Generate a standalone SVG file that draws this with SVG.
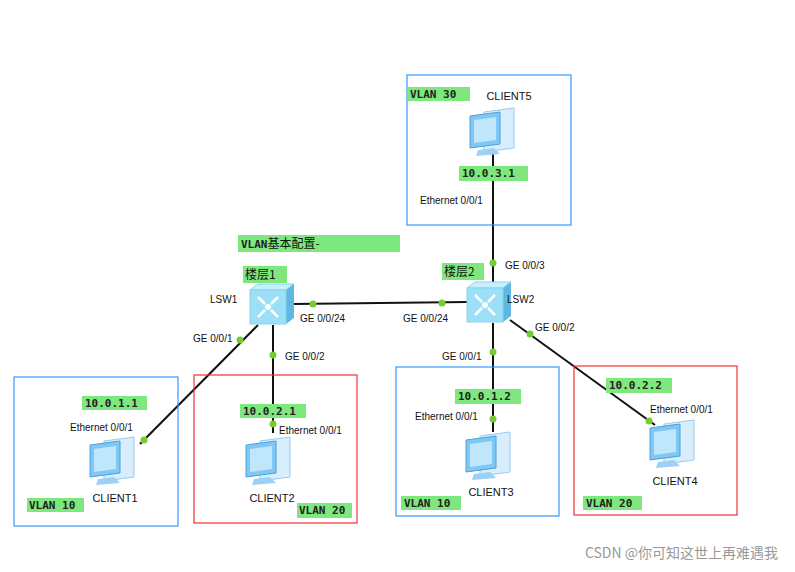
<svg xmlns="http://www.w3.org/2000/svg" width="795" height="572" viewBox="0 0 795 572">
<style>
.lb{fill:#7ee87e}
.m{font-family:"DejaVu Sans Mono","Liberation Mono",monospace;font-size:11px;font-weight:bold;fill:#222}
.t{font-family:"Liberation Sans",Arial,sans-serif;font-size:10px;fill:#111}
.c{font-family:"Liberation Sans",Arial,sans-serif;font-size:11px;fill:#111;text-anchor:middle}
.cn{font-family:"Noto Sans CJK SC",sans-serif;font-size:12px;fill:#111}
.bb{fill:none;stroke:#3399ff;stroke-width:1.2}
.rb{fill:none;stroke:#ee3333;stroke-width:1.2}
.ln{stroke:#111;stroke-width:2;fill:none}
.d{fill:#77cc33}
</style>
<defs>
<g id="pc">
<path d="M14 4 L44 0 L44 40 L14 44 Z" fill="#d8eefc" stroke="#9cc8ee"/>
<path d="M0 8 L30 4 L30 36 L0 40 Z" fill="#7fc8f5" stroke="#4aa0dd"/>
<path d="M4 12 L26 9 L26 32 L4 35 Z" fill="#bfe6fb"/>
<path d="M8 42 L24 40 L30 46 L6 48 Z" fill="#9cd0f5"/>
</g>
<g id="sw">
<path d="M0 6 L8 0 L44 0 L36 6 Z" fill="#c6f0fb" stroke="#8cd2ee"/>
<path d="M36 6 L44 0 L44 34 L36 40 Z" fill="#5fb8e0"/>
<rect x="0" y="6" width="36" height="34" fill="#9be0f6" stroke="#8cd2ee"/>
<g stroke="#fff" stroke-width="2.5" fill="none"><path d="M8 13 L15 20 M28 13 L21 20 M8 33 L15 26 M28 33 L21 26"/></g>
<circle cx="18" cy="23" r="3" fill="#fff"/>
</g>
</defs>
<rect width="795" height="572" fill="#fff"/>
<g id="connectors">
<path class="ln" d="M293 304 L467 302"/>
<path class="ln" d="M493 153 L493 283"/>
<path class="ln" d="M258 325 L140 444"/>
<path class="ln" d="M273 325 L273 433"/>
<path class="ln" d="M493 323 L493 432"/>
<path class="ln" d="M510 320 L655 425"/>
<circle class="d" cx="313" cy="304" r="3.5"/><circle class="d" cx="442" cy="303" r="3.5"/>
<circle class="d" cx="493" cy="263" r="3.5"/><circle class="d" cx="493" cy="174" r="3.5"/>
<circle class="d" cx="240" cy="340" r="3.5"/><circle class="d" cx="144" cy="440" r="3.5"/>
<circle class="d" cx="273" cy="355" r="3.5"/><circle class="d" cx="273" cy="424" r="3.5"/>
<circle class="d" cx="493" cy="352" r="3.5"/><circle class="d" cx="493" cy="419" r="3.5"/>
<circle class="d" cx="530" cy="334" r="3.5"/><circle class="d" cx="649" cy="421" r="3.5"/>
<text class="t" x="300" y="322">GE 0/0/24</text><text class="t" x="403" y="322">GE 0/0/24</text>
<text class="t" x="505" y="269">GE 0/0/3</text>
<text class="t" x="193" y="342">GE 0/0/1</text>
<text class="t" x="285" y="360">GE 0/0/2</text>
<text class="t" x="442" y="360">GE 0/0/1</text>
<text class="t" x="535" y="331">GE 0/0/2</text>
</g>
<g id="title"><rect class="lb" x="238" y="235" width="162" height="17"/><text class="cn" x="241" y="248"><tspan class="m" font-size="11">VLAN</tspan>基本配置-</text></g>
<g id="LSW1"><use href="#sw" x="250" y="284"/><rect class="lb" x="243" y="266" width="44" height="17"/><text class="cn" x="245" y="279">楼层1</text><text class="t" x="210" y="303">LSW1</text></g>
<g id="LSW2"><use href="#sw" x="467" y="282"/><rect class="lb" x="442" y="263" width="42" height="17"/><text class="cn" x="444" y="276">楼层2</text><text class="t" x="507" y="303">LSW2</text></g>
<g id="CLIENT5"><rect class="bb" x="407" y="75" width="164" height="150"/><rect class="lb" x="408" y="87" width="62" height="14"/><text class="m" x="410" y="98">VLAN 30</text>
<text class="c" x="509" y="100">CLIENT5</text><use href="#pc" x="470" y="108"/><rect class="lb" x="459" y="166" width="69" height="15"/><text class="m" x="462" y="177">10.0.3.1</text><text class="t" x="420" y="204">Ethernet 0/0/1</text></g>
<g id="CLIENT1"><rect class="bb" x="14" y="377" width="164" height="149"/><rect class="lb" x="82" y="396" width="65" height="14"/><text class="m" x="85" y="407">10.0.1.1</text><text class="t" x="70" y="431">Ethernet 0/0/1</text><use href="#pc" x="90" y="437"/><text class="c" x="115" y="502">CLIENT1</text><rect class="lb" x="27" y="498" width="57" height="14"/><text class="m" x="29" y="509">VLAN 10</text></g>
<g id="CLIENT2"><rect class="rb" x="194" y="375" width="163" height="148"/><rect class="lb" x="240" y="404" width="66" height="14"/><text class="m" x="243" y="415">10.0.2.1</text><text class="t" x="279" y="434">Ethernet 0/0/1</text><use href="#pc" x="246" y="437"/><text class="c" x="272" y="502">CLIENT2</text><rect class="lb" x="297" y="503" width="55" height="15"/><text class="m" x="299" y="514">VLAN 20</text></g>
<g id="CLIENT3"><rect class="bb" x="396" y="367" width="163" height="149"/><rect class="lb" x="455" y="389" width="66" height="15"/><text class="m" x="458" y="400">10.0.1.2</text><text class="t" x="415" y="420">Ethernet 0/0/1</text><use href="#pc" x="466" y="432"/><text class="c" x="491" y="496">CLIENT3</text><rect class="lb" x="401" y="496" width="60" height="14"/><text class="m" x="404" y="507">VLAN 10</text></g>
<g id="CLIENT4"><rect class="rb" x="574" y="366" width="163" height="149"/><rect class="lb" x="606" y="378" width="66" height="15"/><text class="m" x="609" y="389">10.0.2.2</text><text class="t" x="650" y="413">Ethernet 0/0/1</text><use href="#pc" x="650" y="420"/><text class="c" x="675" y="485">CLIENT4</text><rect class="lb" x="583" y="496" width="59" height="14"/><text class="m" x="586" y="507">VLAN 20</text></g>
<text x="778" y="558" text-anchor="end" font-family="Noto Sans CJK SC,sans-serif" font-size="14" fill="#999">CSDN @你可知这世上再难遇我</text>
</svg>
